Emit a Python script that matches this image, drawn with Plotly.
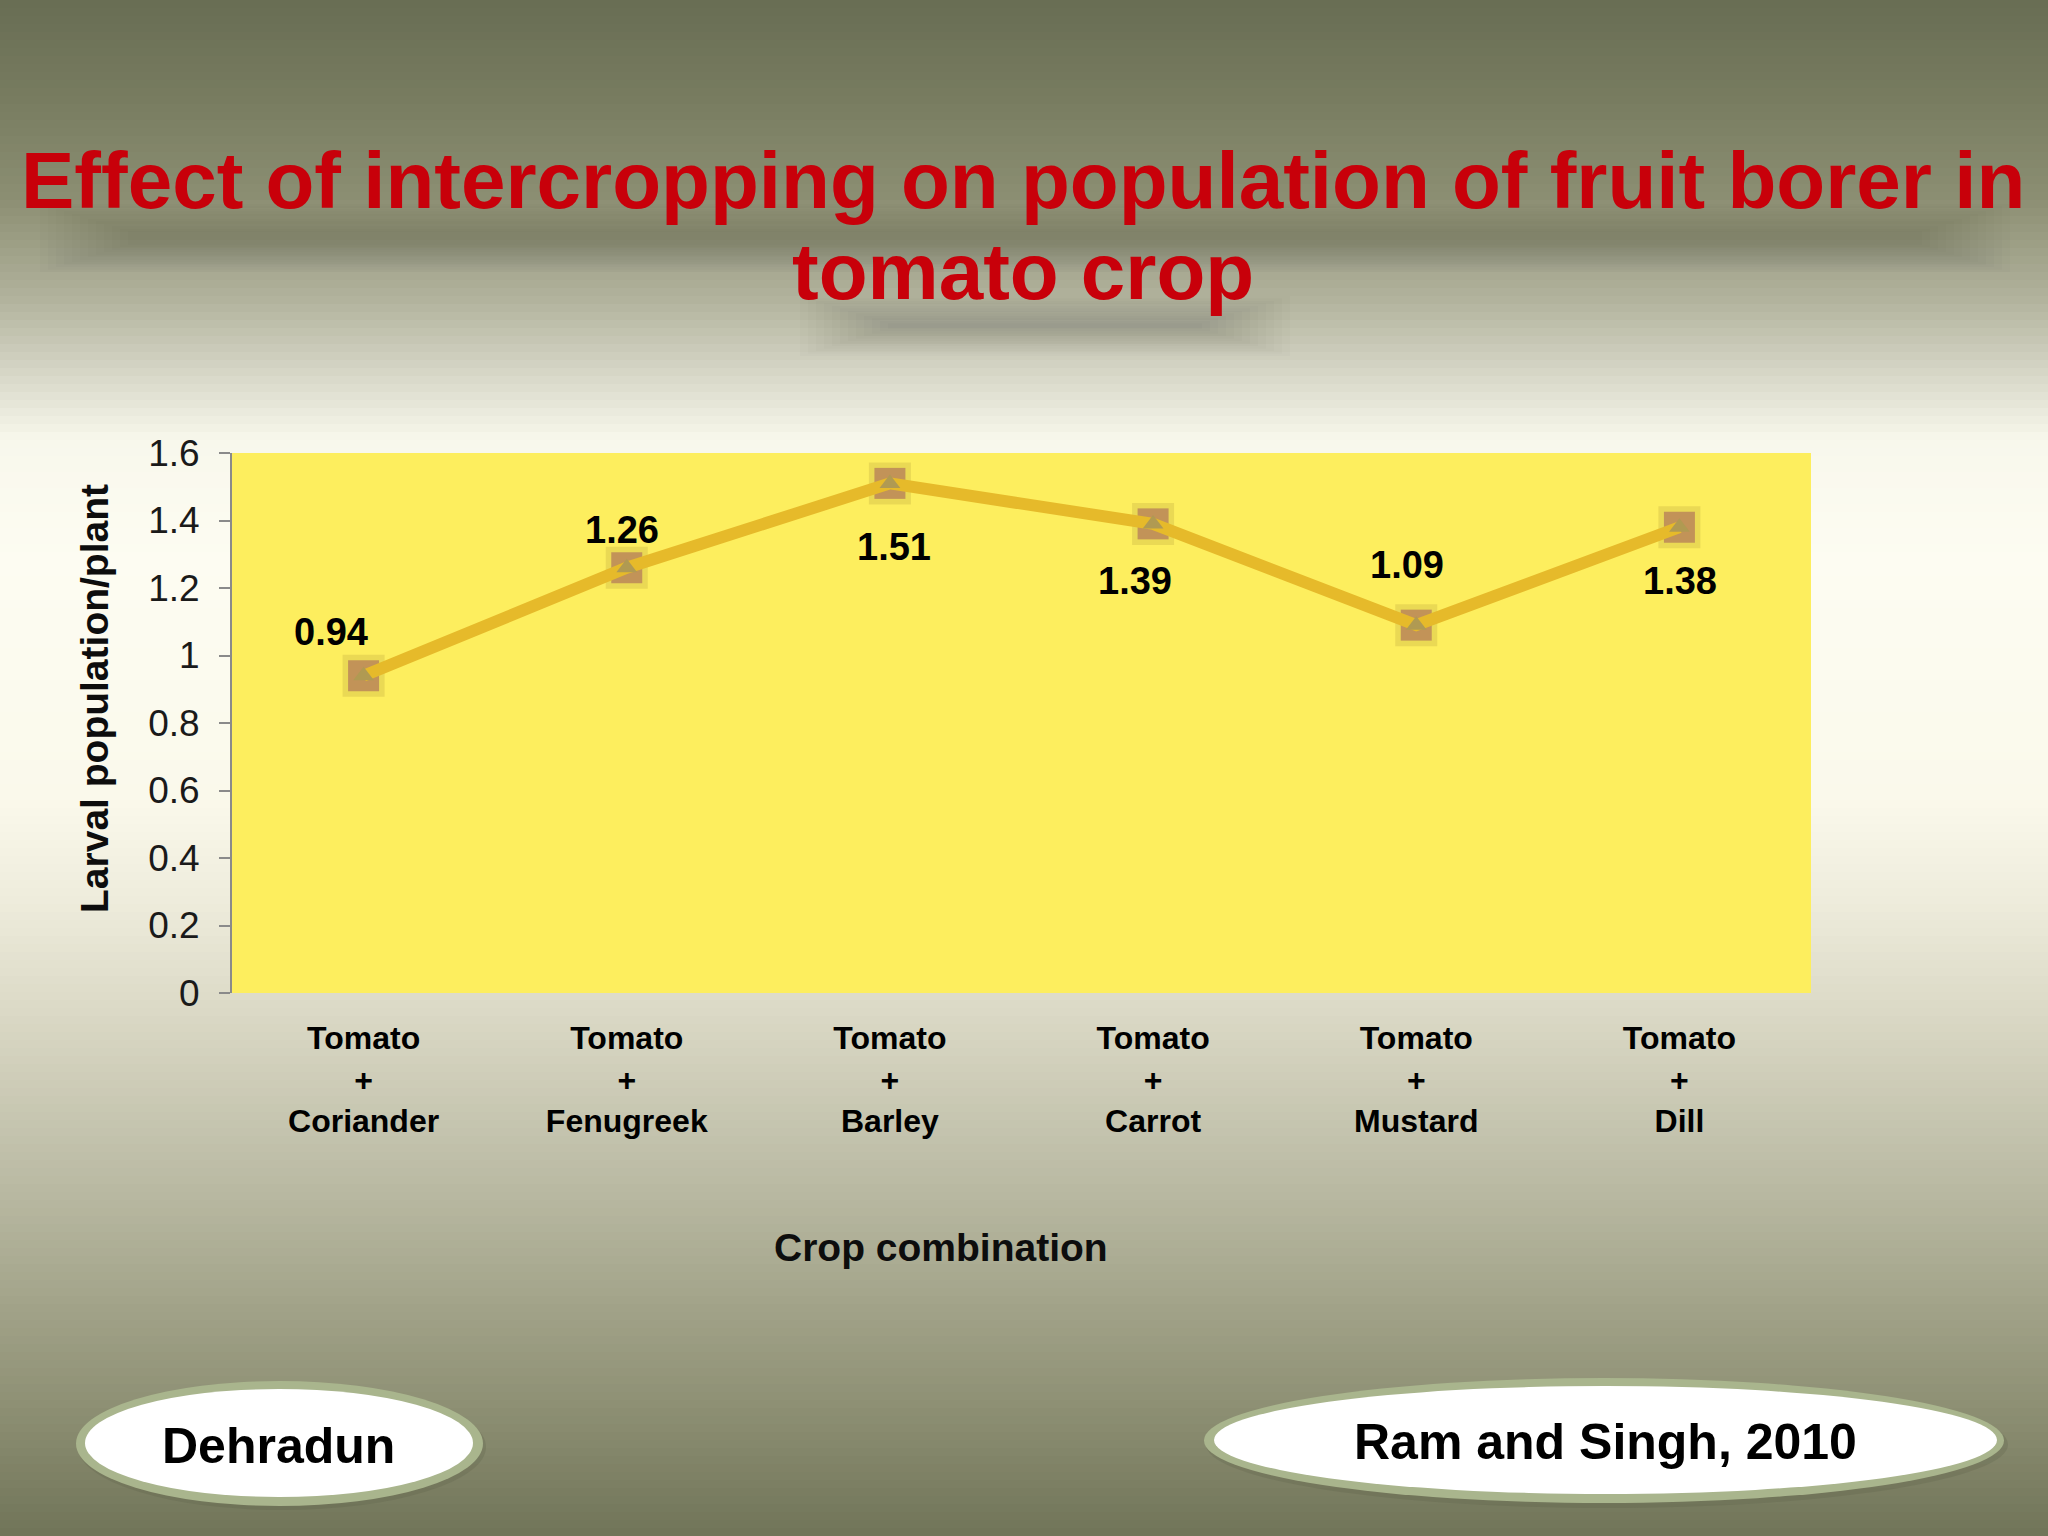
import plotly.graph_objects as go

# ---------------- data ----------------
categories = ["Coriander", "Fenugreek", "Barley", "Carrot", "Mustard", "Dill"]
larval_population = [0.94, 1.26, 1.51, 1.39, 1.09, 1.38]
y_tickvals = [0, 0.2, 0.4, 0.6, 0.8, 1.0, 1.2, 1.4, 1.6]
y_ticktext = ["0", "0.2", "0.4", "0.6", "0.8", "1", "1.2", "1.4", "1.6"]
title_line1 = "Effect of intercropping on population of fruit borer in"
title_line2 = "tomato crop"
x_title = "Crop combination"
y_title = "Larval population/plant"
location_text = "Dehradun"
source_text = "Ram and Singh, 2010"

# label offsets (style, pixels): dx, dy (down positive)
label_offsets = [(-33, -44), (-5, -38), (4, 64), (-18, 57), (-9, -60), (1, 54)]

# ---------------- geometry ----------------
W, H = 2048, 1536
L, R, T, B = 232, 1811, 453, 993
FONT = "Liberation Sans, Arial, sans-serif"


def px(x):
    return (x - L) / (R - L)


def py(y):
    return (B - y) / (B - T)


tick_labels = ["Tomato<br>+<br>" + c for c in categories]

fig = go.Figure()

# glow behind markers
fig.add_trace(go.Scatter(
    x=tick_labels, y=larval_population, mode="markers",
    marker=dict(symbol="square", size=42, color="rgba(185,165,60,0.28)", line=dict(width=0)),
    hoverinfo="skip", showlegend=False))
fig.add_trace(go.Scatter(
    x=tick_labels, y=larval_population, mode="markers",
    marker=dict(symbol="square", size=31, color="#c29358", line=dict(width=0)),
    hoverinfo="skip", showlegend=False))
fig.add_trace(go.Scatter(
    x=tick_labels, y=larval_population, mode="lines",
    line=dict(color="#e6ba2a", width=12),
    hoverinfo="skip", showlegend=False))
fig.add_trace(go.Scatter(
    x=tick_labels, y=larval_population, mode="markers",
    marker=dict(symbol="triangle-up", size=18, color="#b09a52", line=dict(width=0)),
    showlegend=False))

# ---------------- background gradient ----------------
stops = [
    (0, (104, 109, 83)), (100, (120, 124, 96)), (200, (140, 143, 115)),
    (300, (178, 179, 157)), (380, (218, 218, 203)), (440, (248, 248, 236)),
    (560, (253, 252, 242)), (800, (250, 249, 235)), (900, (238, 236, 220)),
    (1000, (221, 219, 200)), (1100, (202, 201, 180)), (1200, (183, 183, 160)),
    (1300, (163, 164, 138)), (1400, (143, 145, 117)), (1536, (112, 116, 88)),
]


def color_at(y):
    for (y0, c0), (y1, c1) in zip(stops[:-1], stops[1:]):
        if y0 <= y <= y1:
            t = (y - y0) / (y1 - y0)
            return tuple(round(a + (b - a) * t) for a, b in zip(c0, c1))
    return stops[-1][1]


shapes = []
step = 8
for y in range(0, H, step):
    c = color_at(y + step / 2)
    shapes.append(dict(type="rect", xref="paper", yref="paper",
                       x0=px(0), x1=px(W), y0=py(y + step + 1), y1=py(y),
                       fillcolor="rgb(%d,%d,%d)" % c, line=dict(width=0), layer="below"))

# soft smear shadow under the title (layered translucent bands)
for (x0, y0, x1, y1) in ((40, 204, 2010, 272), (800, 296, 1290, 356)):
    for k in range(12):
        shapes.append(dict(type="rect", xref="paper", yref="paper",
                           x0=px(x0 + 8 * k), x1=px(x1 - 8 * k),
                           y0=py(y1 - 2.5 * k), y1=py(y0 + 2.5 * k),
                           fillcolor="rgba(70,72,52,0.02)", line=dict(width=0), layer="below"))

# plot area
shapes.append(dict(type="rect", xref="paper", yref="paper", x0=0, x1=1, y0=0, y1=1,
                   fillcolor="#fdee5e", line=dict(width=0), layer="below"))


def ellipse(x0, y0, x1, y1, color):
    return dict(type="circle", xref="paper", yref="paper",
                x0=px(x0), x1=px(x1), y0=py(y1), y1=py(y0),
                fillcolor=color, line=dict(width=0), layer="above")


shapes += [
    ellipse(78, 1384, 486, 1510, "rgba(90,95,70,0.25)"),
    ellipse(76, 1381, 483, 1506, "#a9b58d"),
    ellipse(85, 1389, 473, 1497, "#ffffff"),
    ellipse(1206, 1381, 2008, 1508, "rgba(90,95,70,0.25)"),
    ellipse(1204, 1378, 2004, 1503, "#a9b58d"),
    ellipse(1214, 1386, 1997, 1494, "#ffffff"),
]

annotations = []
for txt, yc in ((title_line1, 180), (title_line2, 271)):
    annotations.append(dict(
        text="<b>%s</b>" % txt, xref="paper", yref="paper",
        x=px(1023), y=py(yc), xanchor="center", yanchor="middle",
        showarrow=False, font=dict(family=FONT, size=80, color="#c8000a")))

# data labels
for xl, v, (dx, dy) in zip(tick_labels, larval_population, label_offsets):
    annotations.append(dict(
        text="<b>%.2f</b>" % v, x=xl, y=v, xref="x", yref="y",
        xshift=dx, yshift=-dy, showarrow=False,
        font=dict(family=FONT, size=38, color="#000000")))

# axis titles
annotations.append(dict(
    text="<b>%s</b>" % y_title, xref="paper", yref="paper", x=px(94), y=py(699),
    textangle=-90, showarrow=False, xanchor="center", yanchor="middle",
    font=dict(family=FONT, size=39, color="#0d0d0d")))
annotations.append(dict(
    text="<b>%s</b>" % x_title, xref="paper", yref="paper", x=px(941), y=py(1247),
    showarrow=False, xanchor="center", yanchor="middle",
    font=dict(family=FONT, size=39, color="#0d0d0d")))

# ellipse texts
annotations.append(dict(
    text="<b>%s</b>" % location_text, xref="paper", yref="paper", x=px(278), y=py(1446),
    showarrow=False, xanchor="center", yanchor="middle",
    font=dict(family=FONT, size=50, color="#000000")))
annotations.append(dict(
    text="<b>%s</b>" % source_text, xref="paper", yref="paper", x=px(1605), y=py(1442),
    showarrow=False, xanchor="center", yanchor="middle",
    font=dict(family=FONT, size=50, color="#000000")))

fig.update_layout(
    width=W, height=H,
    margin=dict(l=L, r=W - R, t=T, b=H - B, pad=0),
    paper_bgcolor="#f3f2e6",
    plot_bgcolor="rgba(0,0,0,0)",
    showlegend=False,
    shapes=shapes,
    annotations=annotations,
    xaxis=dict(type="category", range=[-0.5, 5.5], showline=False, ticks="",
               showgrid=False, zeroline=False,
               tickfont=dict(family=FONT, size=32, color="#000000", weight="bold"),
               ticklabelstandoff=23),
    yaxis=dict(range=[0, 1.6], tickvals=y_tickvals, ticktext=y_ticktext,
               showline=True, linecolor="#8a8a8a", linewidth=2,
               ticks="outside", ticklen=11, tickwidth=2, tickcolor="#8a8a8a",
               showgrid=False, zeroline=False,
               tickfont=dict(family=FONT, size=37, color="#1a1a1a"),
               ticklabelstandoff=12),
)

fig.write_html("out.html")
